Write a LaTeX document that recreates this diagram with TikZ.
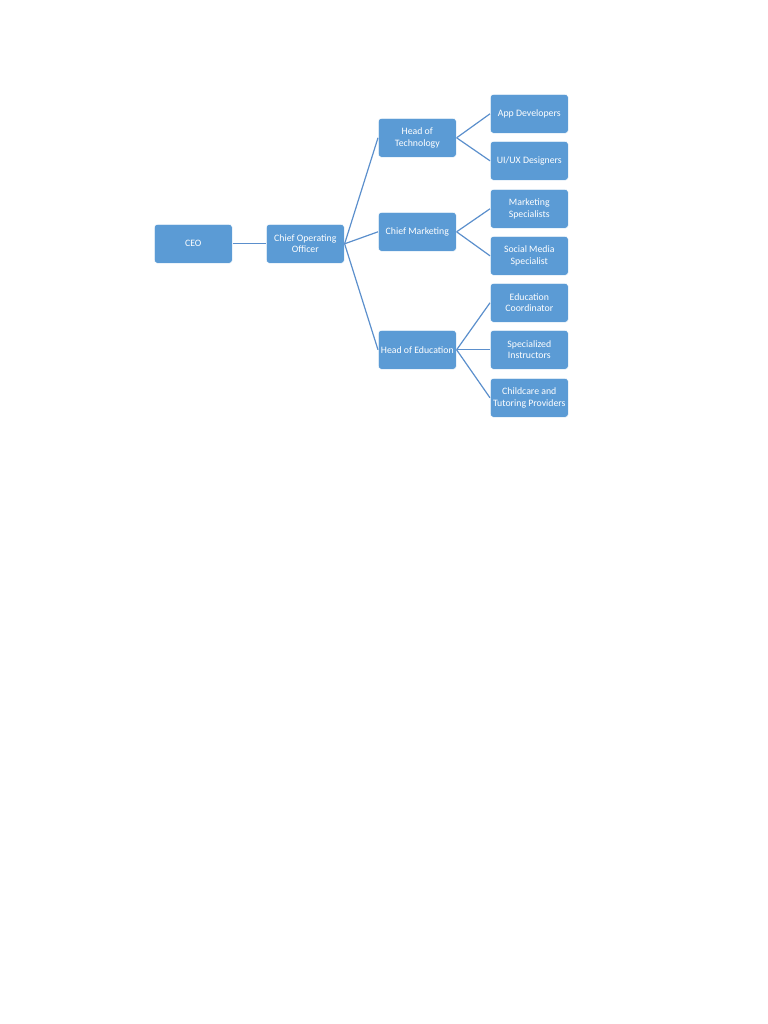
\documentclass[tikz,border=0pt]{standalone}
\usepackage{fontspec}
\setmainfont{Carlito}
\definecolor{boxblue}{HTML}{5B9BD5}
\definecolor{lineblue}{HTML}{5B8FCC}
\begin{document}
\begin{tikzpicture}[x=1bp,y=-1bp,
  box/.style={draw=white,line width=0.6bp,fill=boxblue,rounded corners=3bp,
    minimum width=78bp,minimum height=39bp,inner sep=0.5bp,text=white,
    font=\fontsize{9.8bp}{11.5bp}\selectfont,align=center,anchor=north west},
  link/.style={draw=lineblue,line width=1.2bp}]
\useasboundingbox (0,0) rectangle (768,1024);
\node[box] (ceo) at (154,224) {CEO};
\node[box] (coo) at (266,224) {Chief Operating\\Officer};
\node[box] (hot) at (378,118) {Head of\\Technology};
\node[box] (cm) at (378,212) {Chief Marketing};
\node[box] (hoe) at (378,330) {Head of Education};
\node[box] (app) at (490,94) {App Developers};
\node[box] (ui) at (490,141) {UI/UX Designers};
\node[box] (ms) at (490,189) {Marketing\\Specialists};
\node[box] (sm) at (490,236) {Social Media\\Specialist};
\node[box] (ec) at (490,283) {Education\\Coordinator};
\node[box] (si) at (490,330) {Specialized\\Instructors};
\node[box] (cc) at (490,378) {Childcare and\\Tutoring Providers};
\draw[link] (ceo.east) -- (coo.west);
\foreach \t in {hot,cm,hoe} \draw[link] (coo.east) -- (\t.west);
\foreach \t in {app,ui} \draw[link] (hot.east) -- (\t.west);
\foreach \t in {ms,sm} \draw[link] (cm.east) -- (\t.west);
\foreach \t in {ec,si,cc} \draw[link] (hoe.east) -- (\t.west);
\end{tikzpicture}
\end{document}
